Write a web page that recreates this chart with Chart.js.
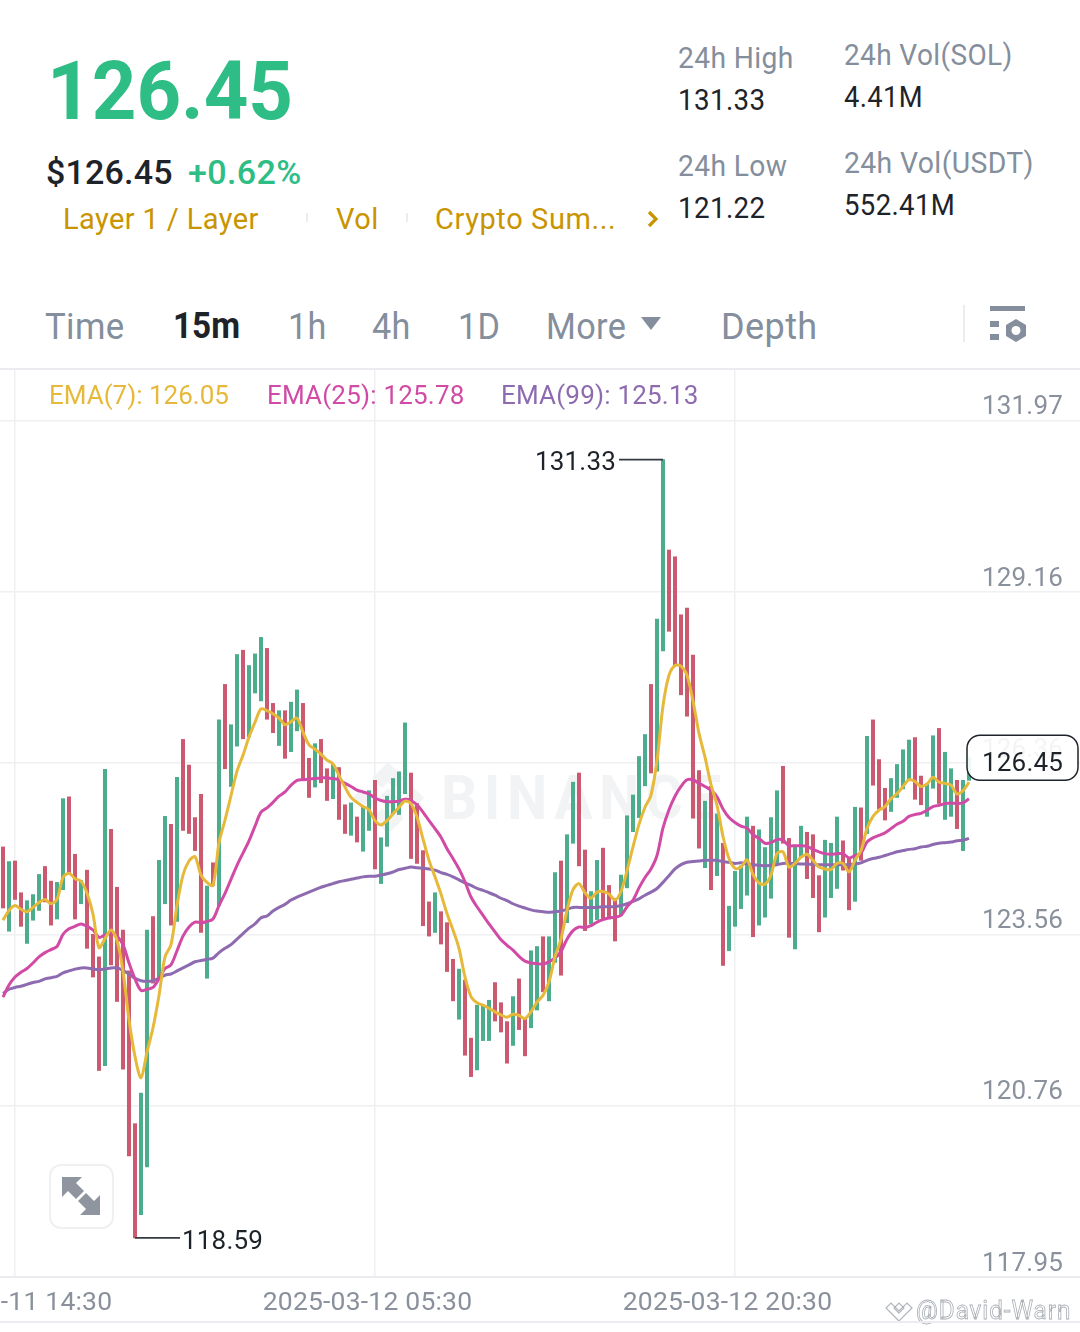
<!DOCTYPE html>
<html><head><meta charset="utf-8">
<script src="https://cdn.jsdelivr.net/npm/chart.js@4"></script>
<style>
html,body{margin:0;padding:0;background:#fff;width:1080px;height:1332px;overflow:hidden}
body{position:relative;font-family:Roboto,sans-serif}
.t{position:absolute;transform:translateY(-50%) scaleX(var(--s,1));transform-origin:left center;white-space:nowrap;line-height:1;letter-spacing:.4px}
.g{color:#848e9c}.d{color:#1e2329}.y{color:#c99400}
.r{position:absolute;background:#eaecef}
canvas{position:absolute;left:0;top:0}
#wrap{position:absolute;left:0;top:370px;width:1080px;height:952px}
</style></head><body>
<div class="t" style="left:47px;top:91px;font-size:82px;font-weight:700;color:#2ebd85;letter-spacing:0;--s:.95">126.45</div>
<div class="t d" style="left:46px;top:172px;font-size:34px;font-weight:500;letter-spacing:.2px">$126.45</div>
<div class="t" style="left:188px;top:172px;font-size:34px;font-weight:500;color:#2ebd85">+0.62%</div>
<div class="t y" style="left:63px;top:219px;font-size:29px;letter-spacing:.4px">Layer 1 / Layer</div>
<div class="r" style="left:306px;top:213px;width:2px;height:9px"></div>
<div class="t y" style="left:336px;top:219px;font-size:29px">Vol</div>
<div class="r" style="left:406px;top:213px;width:2px;height:9px"></div>
<div class="t y" style="left:435px;top:219px;font-size:29px;letter-spacing:.6px">Crypto Sum...</div>
<svg style="position:absolute;left:646px;top:209px" width="14" height="20"><polyline points="3,3 10,10 3,17" fill="none" stroke="#c99400" stroke-width="3.2"/></svg>
<div class="t g" style="left:678px;top:58px;font-size:30px;--s:.94">24h High</div>
<div class="t d" style="left:678px;top:100px;font-size:30px;--s:.925">131.33</div>
<div class="t g" style="left:678px;top:166px;font-size:30px;--s:.94">24h Low</div>
<div class="t d" style="left:678px;top:208px;font-size:30px;--s:.925">121.22</div>
<div class="t g" style="left:844px;top:55px;font-size:30px;--s:.934">24h Vol(SOL)</div>
<div class="t d" style="left:844px;top:97px;font-size:30px;--s:.91">4.41M</div>
<div class="t g" style="left:844px;top:163px;font-size:30px;--s:.945">24h Vol(USDT)</div>
<div class="t d" style="left:844px;top:205px;font-size:30px;--s:.917">552.41M</div>
<div class="t g" style="left:45px;top:327px;font-size:36px;--s:.965">Time</div>
<div class="t d" style="left:173px;top:326px;font-size:36px;font-weight:700;letter-spacing:0;--s:.925">15m</div>
<div class="t g" style="left:288px;top:327px;font-size:36px;--s:.95">1h</div>
<div class="t g" style="left:372px;top:327px;font-size:36px;--s:.95">4h</div>
<div class="t g" style="left:458px;top:327px;font-size:36px;--s:.95">1D</div>
<div class="t g" style="left:546px;top:327px;font-size:36px;--s:.95">More</div>
<svg style="position:absolute;left:640px;top:316px" width="22" height="15"><polygon points="1,1 21,1 11,14" fill="#848e9c"/></svg>
<div class="t g" style="left:721px;top:327px;font-size:36px">Depth</div>
<div class="r" style="left:963px;top:305px;width:2px;height:37px"></div>
<svg style="position:absolute;left:988px;top:305px" width="40" height="38">
<rect x="2" y="1" width="35" height="5" fill="#848e9c"/><rect x="2" y="16" width="9" height="6" fill="#848e9c"/><rect x="2" y="29" width="9" height="6" fill="#848e9c"/>
<polygon points="28,14 38,20 38,31 28,37 18,31 18,20" fill="#848e9c"/><circle cx="28" cy="25.5" r="4.5" fill="#fff"/></svg>
<div class="r" style="left:0;top:368px;width:1080px;height:2px"></div>

<svg style="position:absolute;left:350px;top:760px" width="80" height="76" fill="#f2f3f4">
<polygon points="38,2 54,18 44,28 38,22 32,28 22,18"/><polygon points="12,28 22,38 12,48 2,38"/><polygon points="38,28 48,38 38,48 28,38"/><polygon points="64,28 74,38 64,48 54,38"/><polygon points="22,58 32,48 38,54 44,48 54,58 38,74"/></svg>
<div class="t" style="left:441px;top:798px;font-size:62px;font-weight:700;color:#f2f3f4;letter-spacing:7px;--s:.92">BINANCE</div>

<div id="wrap"><canvas id="c" width="1080" height="952"></canvas></div>

<div class="t" style="left:49px;top:395px;font-size:26px;color:#e6b93a;letter-spacing:0">EMA(7): 126.05</div>
<div class="t" style="left:267px;top:395px;font-size:26px;color:#d14ba6;letter-spacing:.2px">EMA(25): 125.78</div>
<div class="t" style="left:501px;top:395px;font-size:26px;color:#8e6bb0;letter-spacing:.2px">EMA(99): 125.13</div>

<div style="position:absolute;left:49px;top:1164px;width:61px;height:61px;border:2px solid #eef0f2;border-radius:12px;background:#fff"></div>
<svg style="position:absolute;left:60px;top:1175px" width="42" height="42" fill="#8f959e">
<polygon points="2,2 22,2 16,8 24,16 16,24 8,16 2,22"/><polygon points="40,40 20,40 26,34 18,26 26,18 34,26 40,20"/></svg>

<div class="t" style="left:916px;top:1310px;font-size:25px;color:#fff;-webkit-text-stroke:.8px #a9aeb5;letter-spacing:1px;--s:.97">@David-Warn</div>
<svg style="position:absolute;left:884px;top:1299px" width="30" height="25" fill="none" stroke="#b0b5bb" stroke-width="1.2"><polygon points="15,22 2,9 7,4 15,12 23,4 28,9"/><polygon points="15,14 10,9 15,4 20,9"/></svg>

<script>
const candleDir = "RGRRGGGRRG"+"GRRGRRRGRR"+"RRRGGRGGRG"+"RRRRGRGRGG"+"RGGGRRGRGG"+"RRGRRGRRGR"+"GGRGGGGGRR"+"RRGRRRGRRG"+"GGRRRGRRGG"+"RGGRGGRRGG"+"RRRGGGGGRG"+"GRRRRRRGRG"+"RGGGGRGGGG"+"RRGGRRRGGG"+"RRGRGRRRGG"+"GGRRGGRGGR"+"GG";
const candleHigh = [
124.99,124.75,124.76,124.24,124.11,124.21,124.54,124.67,124.43,124.41,
125.78,125.81,124.87,124.44,124.61,123.56,123.19,126.26,125.28,124.33,
123.63,122.96,120.46,120.96,123.63,123.85,124.77,125.49,125.36,126.13,
126.75,126.33,125.47,125.85,124.35,124.73,127.07,127.65,126.99,128.14,
128.21,127.96,128.15,128.42,128.24,127.34,127.22,127.22,127.36,127.56,
127.34,126.44,126.68,126.75,126.27,126.34,126.29,125.68,125.71,125.48,
125.64,125.91,126.08,125.14,125.82,126.11,126.22,127.02,126.20,125.70,
124.93,124.09,124.24,123.93,123.75,123.15,122.99,122.81,121.86,122.40,
122.40,122.48,122.77,122.44,122.13,122.54,122.83,122.18,123.29,123.36,
123.52,123.52,124.57,124.76,125.19,126.05,126.20,124.94,124.26,124.77,
124.97,124.36,124.15,124.53,125.50,125.84,126.47,126.83,127.65,128.72,
131.33,129.85,129.74,128.79,128.90,128.13,126.24,125.74,125.98,125.53,
125.05,124.02,124.59,124.68,125.48,125.33,125.27,124.98,125.47,125.91,
126.31,125.13,124.99,125.33,125.23,125.19,124.52,125.10,125.05,125.48,
125.09,124.82,125.64,125.63,126.80,127.07,126.42,125.95,126.11,126.34,
126.58,126.74,126.78,126.15,126.02,126.81,126.93,126.54,126.27,126.08,
126.08,126.46];
const candleLow = [
123.99,123.61,124.13,123.69,123.41,123.79,123.95,124.09,123.71,123.81,
124.29,124.56,123.81,124.06,123.33,122.86,121.33,121.41,123.06,122.46,
121.35,119.93,118.59,118.97,119.75,122.76,122.83,124.06,123.71,123.77,
125.26,125.21,124.93,123.59,122.84,124.36,124.03,126.27,125.98,126.64,
126.76,126.79,127.51,127.38,127.08,126.86,126.65,126.44,126.55,126.89,
126.10,125.80,125.97,126.04,125.75,125.78,125.44,125.21,125.18,125.07,
124.92,125.26,124.63,124.39,125.00,125.53,125.52,125.86,124.80,124.72,
123.70,123.53,123.59,123.40,122.95,122.47,122.17,121.58,121.23,121.34,
121.82,121.82,122.14,121.96,121.45,121.74,122.00,121.57,122.03,122.32,
122.62,122.47,123.10,122.89,123.75,125.05,124.68,123.62,123.73,123.80,
123.81,123.81,123.45,123.87,124.32,125.24,125.47,125.99,126.20,126.23,
128.20,128.52,127.97,127.48,127.13,125.46,124.97,124.65,124.29,124.52,
123.05,123.29,123.69,123.98,124.20,123.52,123.71,123.84,124.15,124.71,
125.05,123.51,123.32,124.82,124.47,124.16,123.60,123.84,124.16,124.31,
124.61,123.96,124.10,124.77,125.21,126.00,125.61,125.43,125.57,125.80,
125.94,126.08,125.77,125.68,125.49,125.95,125.70,125.44,125.49,125.29,
124.93,126.08];
const ema7 = [
123.79,123.95,124.03,123.97,123.93,124.00,124.08,124.13,124.06,124.13,
124.49,124.56,124.47,124.43,124.23,123.89,123.34,123.49,123.63,123.46,
122.96,122.16,121.56,121.21,121.63,122.03,122.56,123.19,123.39,124.03,
124.53,124.76,124.83,124.53,124.41,124.36,125.06,125.43,125.83,126.23,
126.49,126.79,127.03,127.25,127.22,127.17,127.10,126.99,127.04,127.10,
126.87,126.66,126.59,126.51,126.41,126.35,126.16,125.97,125.80,125.72,
125.65,125.60,125.42,125.35,125.42,125.53,125.64,125.74,125.70,125.48,
125.12,124.77,124.50,124.22,123.90,123.63,123.33,122.86,122.54,122.44,
122.40,122.35,122.29,122.24,122.20,122.25,122.23,122.18,122.29,122.45,
122.56,122.78,123.19,123.48,123.95,124.29,124.39,124.24,124.15,124.25,
124.26,124.22,124.12,124.26,124.60,124.99,125.36,125.64,125.84,126.40,
127.30,127.80,127.96,127.95,127.80,127.38,126.85,126.46,126.01,125.67,
125.16,124.80,124.64,124.66,124.78,124.54,124.40,124.38,124.53,124.88,
124.91,124.66,124.72,124.82,124.87,124.77,124.66,124.63,124.62,124.72,
124.72,124.58,124.77,124.93,125.29,125.49,125.59,125.65,125.78,125.86,
125.98,126.09,126.06,125.98,126.02,126.13,126.05,126.03,126.00,125.86,
125.91,126.05];
const ema25 = [
122.53,122.73,122.86,122.94,123.00,123.09,123.19,123.26,123.31,123.36,
123.56,123.65,123.69,123.73,123.69,123.63,123.51,123.55,123.58,123.53,
123.39,123.09,122.83,122.64,122.66,122.69,122.83,123.00,123.06,123.29,
123.53,123.68,123.76,123.75,123.77,123.81,124.03,124.23,124.46,124.69,
124.89,125.09,125.33,125.56,125.63,125.72,125.82,125.89,126.00,126.08,
126.09,126.10,126.11,126.12,126.12,126.11,126.09,126.03,125.98,125.92,
125.89,125.86,125.79,125.75,125.73,125.73,125.74,125.77,125.75,125.68,
125.56,125.42,125.29,125.15,124.96,124.80,124.63,124.42,124.17,124.01,
123.87,123.73,123.60,123.47,123.38,123.30,123.20,123.12,123.09,123.08,
123.07,123.11,123.17,123.28,123.48,123.62,123.68,123.67,123.70,123.76,
123.80,123.83,123.84,123.87,124.01,124.12,124.32,124.49,124.63,124.85,
125.30,125.60,125.82,125.98,126.09,126.09,126.03,125.98,125.92,125.81,
125.61,125.47,125.39,125.33,125.30,125.19,125.13,125.05,125.06,125.11,
125.10,125.01,125.01,125.01,125.00,124.95,124.91,124.88,124.87,124.88,
124.88,124.81,124.85,124.89,125.07,125.14,125.18,125.22,125.29,125.36,
125.41,125.49,125.52,125.54,125.59,125.65,125.67,125.70,125.71,125.70,
125.71,125.78];
const ema99 = [
122.59,122.66,122.69,122.71,122.74,122.77,122.79,122.83,122.85,122.87,
122.93,122.96,122.99,123.01,123.01,122.99,122.98,122.99,123.01,123.01,
122.97,122.91,122.84,122.80,122.79,122.80,122.84,122.89,122.91,122.96,
123.01,123.06,123.11,123.13,123.15,123.17,123.26,123.33,123.39,123.48,
123.57,123.66,123.73,123.83,123.86,123.94,124.00,124.05,124.12,124.17,
124.21,124.25,124.29,124.33,124.36,124.39,124.42,124.44,124.46,124.48,
124.50,124.51,124.51,124.53,124.55,124.58,124.62,124.64,124.66,124.65,
124.64,124.63,124.61,124.57,124.54,124.50,124.45,124.40,124.36,124.31,
124.28,124.24,124.20,124.15,124.11,124.06,124.02,123.99,123.96,123.94,
123.93,123.92,123.93,123.94,123.97,124.00,124.00,124.00,124.00,124.00,
124.01,124.01,124.01,124.03,124.06,124.10,124.14,124.20,124.25,124.31,
124.41,124.52,124.63,124.70,124.74,124.75,124.76,124.77,124.77,124.77,
124.75,124.74,124.72,124.73,124.71,124.70,124.69,124.68,124.69,124.70,
124.72,124.72,124.72,124.71,124.71,124.70,124.70,124.70,124.70,124.70,
124.70,124.70,124.71,124.73,124.77,124.80,124.82,124.85,124.88,124.91,
124.93,124.95,124.96,124.99,125.00,125.03,125.05,125.06,125.07,125.09,
125.10,125.13];
const yTicks = [117.95,120.76,123.56,126.36,129.16,131.97];
const xTickIndex = [2,62,122];
const lastPrice = 126.45, hiPrice = 131.33, hiIndex = 110, loPrice = 118.59, loIndex = 22;
const slots = 180;
const categories = Array.from({length:slots},(_,i)=>{
  const d=new Date(Date.UTC(2025,2,11,14,0)+i*900000);
  const p=n=>String(n).padStart(2,'0');
  return `${d.getUTCFullYear()}-${p(d.getUTCMonth()+1)}-${p(d.getUTCDate())} ${p(d.getUTCHours())}:${p(d.getUTCMinutes())}`;
});
const GREEN='#4cad8c', RED='#cb5a70', AXIS='#8a919c', GRID='#eef0f2';
const FONT='Roboto, sans-serif';
const bars = candleHigh.map((h,i)=>[candleLow[i],h]);
const noPad = s=>{s.paddingLeft=0;s.paddingRight=0;s.paddingTop=0;s.paddingBottom=0;};

const annotate = {
  id:'annotate',
  beforeDraw(c){c.ctx.letterSpacing='0.2px';},
  afterDraw(c){
    const x=c.scales.x,y=c.scales.y,k=c.ctx;
    k.save();
    k.font='26px '+FONT; k.fillStyle='#1e2329'; k.strokeStyle='#333a42'; k.lineWidth=1.6;
    k.textBaseline='middle';
    const hx=x.getPixelForValue(hiIndex), hy=y.getPixelForValue(hiPrice);
    k.beginPath();k.moveTo(619,hy);k.lineTo(hx,hy);k.stroke();
    k.textAlign='right';k.fillText(hiPrice.toFixed(2),616,hy+4);
    const lx=x.getPixelForValue(loIndex), ly=y.getPixelForValue(loPrice);
    k.beginPath();k.moveTo(lx,ly);k.lineTo(lx+45,ly);k.stroke();
    k.textAlign='left';k.fillText(loPrice.toFixed(2),lx+47,ly+5);
    const py=y.getPixelForValue(lastPrice);
    k.beginPath();k.roundRect(967,py-22.5,111,45,13);
    k.fillStyle='rgba(255,255,255,.9)';k.fill();
    k.strokeStyle='#1e2329';k.lineWidth=1.5;k.stroke();
    k.fillStyle='#1e2329';k.textAlign='center';
    k.fillText(lastPrice.toFixed(2),1022.5,py+7);
    k.restore();
  }
};

new Chart(document.getElementById('c'),{
  type:'bar',
  plugins:[annotate],
  data:{labels:categories,datasets:[
    {type:'line',label:'EMA(7)',data:ema7,borderColor:'#e6b93a',borderWidth:3,pointRadius:0,tension:.3,order:1},
    {type:'line',label:'EMA(25)',data:ema25,borderColor:'#d14ba6',borderWidth:3,pointRadius:0,tension:.3,order:2},
    {type:'line',label:'EMA(99)',data:ema99,borderColor:'#8e6bb0',borderWidth:3,pointRadius:0,tension:.3,order:3},
    {type:'bar',label:'SOL/USDT 15m',data:bars,barThickness:3.4,borderSkipped:false,borderWidth:0,
     backgroundColor:[...candleDir].map(d=>d==='G'?GREEN:RED),order:4}
  ]},
  options:{
    responsive:false,animation:false,devicePixelRatio:1,
    layout:{padding:0},
    plugins:{legend:{display:false},tooltip:{enabled:false},title:{display:false}},
    scales:{
      x:{type:'category',offset:true,
        grid:{offset:false,color:GRID,lineWidth:1.5,drawTicks:false},
        border:{display:true,color:'#eaecef',width:2},
        afterBuildTicks(s){s.ticks=xTickIndex.map(v=>({value:v}));},
        afterFit(s){noPad(s);s.height=45;},
        ticks:{autoSkip:false,maxRotation:0,minRotation:0,color:AXIS,font:{family:FONT,size:26.5},padding:10,labelOffset:-7.5,
          callback(v){return categories[v];}}
      },
      y:{type:'linear',position:'right',min:117.95,max:132.797,
        grid:{color:GRID,lineWidth:1.5,drawTicks:false},
        border:{display:false},
        afterBuildTicks(s){s.ticks=yTicks.map(v=>({value:v}));},
        afterFit(s){noPad(s);s.width=0;},
        ticks:{mirror:true,padding:-17,labelOffset:-13,color:AXIS,font:{family:FONT,size:26},
          callback(v){return v.toFixed(2);}}
      }
    }
  }
});
</script>
<div class="r" style="left:0;top:1321px;width:1080px;height:2px"></div>
</body></html>
